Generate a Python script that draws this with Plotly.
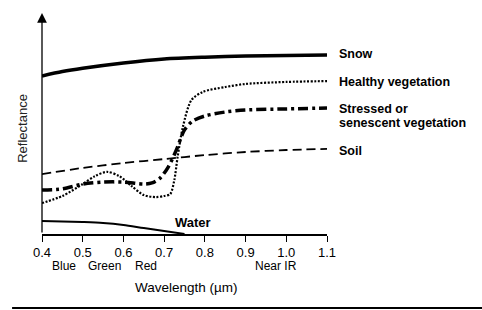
import plotly.graph_objects as go

# Spectral reflectance curves (arbitrary reflectance units, 0-100)
snow_wl = [0.40, 0.45, 0.50, 0.60, 0.70, 0.80, 0.90, 1.00, 1.10]
snow_r = [71.5, 73.5, 75.0, 77.4, 79.2, 80.0, 80.5, 80.8, 81.0]

healthy_wl = [0.40, 0.45, 0.50, 0.53, 0.56, 0.59, 0.62, 0.65, 0.68, 0.70, 0.715,
              0.725, 0.733, 0.746, 0.767, 0.795, 0.85, 0.90, 1.00, 1.10]
healthy_r = [14.0, 17.2, 22.6, 26.2, 28.1, 26.2, 21.7, 17.6, 16.7, 17.2, 18.1,
             24.4, 34.8, 48.4, 60.6, 64.3, 66.5, 67.9, 68.8, 69.2]

stressed_wl = [0.40, 0.45, 0.50, 0.55, 0.60, 0.65, 0.67, 0.69, 0.71, 0.73, 0.75,
               0.77, 0.80, 0.85, 0.90, 1.00, 1.10]
stressed_r = [19.9, 20.4, 22.6, 23.5, 23.5, 22.6, 23.1, 25.3, 30.3, 38.0, 47.1,
              51.1, 53.4, 55.2, 56.1, 56.6, 57.0]

soil_wl = [0.40, 0.50, 0.60, 0.70, 0.80, 0.90, 1.00, 1.10]
soil_r = [27.1, 29.9, 32.1, 33.9, 35.7, 37.1, 38.0, 38.5]

water_wl = [0.40, 0.50, 0.55, 0.60, 0.65, 0.70, 0.75]
water_r = [5.9, 5.4, 5.0, 4.1, 2.7, 1.4, 0.0]

tick_vals = [0.4, 0.5, 0.6, 0.7, 0.8, 0.9, 1.0, 1.1]
band_names = ["Blue", "Green", "Red", "Near IR"]
band_pos = [0.453, 0.554, 0.655, 0.974]

curve_labels = ["Snow", "Healthy vegetation", "Stressed or", "senescent vegetation", "Soil"]
curve_label_y = [81.4, 68.8, 56.6, 50.2, 37.6]

# plot area: x 0.4..1.1, y 0..100 -> paper fractions
def px(wl):
    return (wl - 0.4) / 0.7

def py(r):
    return r / 100.0

fig = go.Figure()

def add_curve(x, y, width, dash):
    fig.add_trace(go.Scatter(x=x, y=y, mode="lines",
                             line=dict(color="black", width=width, dash=dash,
                                       shape="spline", smoothing=0.8),
                             showlegend=False, hoverinfo="skip"))

add_curve(snow_wl, snow_r, 3.5, "solid")
add_curve(soil_wl, soil_r, 1.8, "9px,5px")
add_curve(healthy_wl, healthy_r, 2.2, "2px,1.6px")
add_curve(stressed_wl, stressed_r, 3.5, "10px,4px,3px,4px")
add_curve(water_wl, water_r, 2, "solid")

font_reg = dict(family="Liberation Sans, Arial", color="black")

# y axis drawn as an arrow
fig.add_annotation(x=0.4, y=100, ax=0.4, ay=0, axref="x", ayref="y", xref="x", yref="y",
                   text="", showarrow=True, arrowhead=2, arrowsize=1.5, arrowwidth=1.3,
                   arrowcolor="black")

for name, yy in zip(curve_labels, curve_label_y):
    fig.add_annotation(x=px(1.1246), y=py(yy), xref="paper", yref="paper",
                       text="<b>" + name + "</b>",
                       showarrow=False, xanchor="left", yanchor="middle",
                       font=dict(size=12.5, **font_reg))

fig.add_annotation(x=0.771, y=5.0, xref="x", yref="y", text="<b>Water</b>",
                   showarrow=False, xanchor="center", yanchor="middle",
                   font=dict(size=13, **font_reg))

for name, pos in zip(band_names, band_pos):
    fig.add_annotation(x=px(pos), y=py(-14.5), xref="paper", yref="paper", text=name,
                       showarrow=False, xanchor="center", yanchor="middle",
                       font=dict(size=12, **font_reg))

fig.add_annotation(x=px(0.755), y=py(-24.4), xref="paper", yref="paper",
                   text="Wavelength (µm)", showarrow=False,
                   xanchor="center", yanchor="middle", font=dict(size=13.5, **font_reg))

fig.add_annotation(x=px(0.353), y=py(48), xref="paper", yref="paper", text="Reflectance",
                   textangle=-90, showarrow=False, xanchor="center", yanchor="middle",
                   font=dict(size=13, family="Liberation Sans, Arial", color="#222"))

# rule under the figure
fig.add_shape(type="line", xref="paper", yref="paper", x0=-0.105, x1=1.55,
              y0=-0.335, y1=-0.335, line=dict(color="black", width=2))

fig.update_layout(
    width=482, height=310,
    margin=dict(l=42, r=155, t=13, b=76),
    paper_bgcolor="white", plot_bgcolor="white",
    xaxis=dict(range=[0.4, 1.1], tickvals=tick_vals, tickformat=".1f",
               showline=True, linecolor="black", linewidth=1.5,
               ticks="outside", ticklen=6, tickwidth=1.3, tickcolor="black",
               showgrid=False, zeroline=False,
               tickfont=dict(size=13, **font_reg)),
    yaxis=dict(range=[0, 100], visible=False, showgrid=False, zeroline=False),
)

fig.write_html("out.html", config={"displayModeBar": False},
               post_script="document.body.style.margin='0';")
